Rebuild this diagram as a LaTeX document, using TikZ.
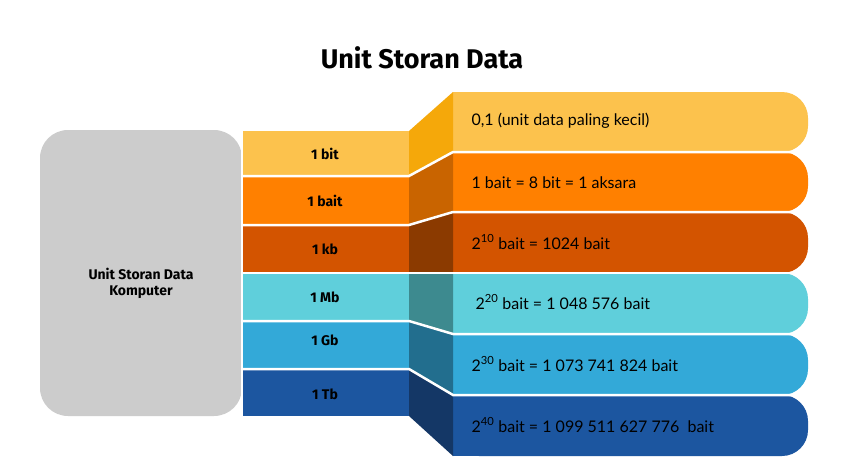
\documentclass[tikz,border=0pt]{standalone}
\usepackage{fontspec}
\setmainfont{Fira Sans}
\newfontfamily\rfont{Lato}
\definecolor{cA}{HTML}{FCC24D}\definecolor{dA}{HTML}{F5A80A}
\definecolor{cB}{HTML}{FF8000}\definecolor{dB}{HTML}{C96400}
\definecolor{cC}{HTML}{D35400}\definecolor{dC}{HTML}{8B3A00}
\definecolor{cD}{HTML}{5FCFDB}\definecolor{dD}{HTML}{3D8A8F}
\definecolor{cE}{HTML}{33A9D8}\definecolor{dE}{HTML}{226E8E}
\definecolor{cF}{HTML}{1C56A0}\definecolor{dF}{HTML}{143766}
\definecolor{gr}{HTML}{CCCCCC}
\begin{document}
\begin{tikzpicture}[x=1pt,y=-1pt,
  lab/.style={font=\bfseries\fontsize{14}{16}\selectfont},
  rt/.style={font=\rfont\fontsize{16}{18}\selectfont,anchor=west},
  sep/.style={draw=white,line width=2.5pt}]
\useasboundingbox (0,0) rectangle (852,474);
\fill[white] (0,0) rectangle (852,474);
\node[font=\bfseries\fontsize{27}{30}\selectfont] (title) at (422,58) {Unit Storan Data};
% gray box
\fill[gr,rounded corners=28pt] (242,130) -- (40,130) -- (40,416) -- (242,416) -- cycle;
\node[lab,align=center] (main) at (141,283) {Unit Storan Data\\Komputer};
% left rows: top bottom ; right rows: top bottom
\def\row#1#2#3#4#5#6#7#8#9{%
  \fill[#1] (242,#2) rectangle (409,#3);
  \fill[#4,rounded corners=26pt] (453,#5) -- (808,#5) -- (808,#6) -- (453,#6) -- cycle;
  \fill[#4] (453,#5) rectangle (500,#6);
  \fill[#7] (409,#2) -- (453,#5) -- (453,#6) -- (409,#3) -- cycle;
}
\row{cA}{131}{176}{cA}{92}{152}{dA}{}{}
\row{cB}{176}{225}{cB}{152}{212}{dB}{}{}
\row{cC}{225}{273}{cC}{212}{273}{dC}{}{}
\row{cD}{273}{321}{cD}{273}{334}{dD}{}{}
\row{cE}{321}{369}{cE}{334}{395}{dE}{}{}
\row{cF}{369}{416}{cF}{395}{456}{dF}{}{}
% separators
\foreach \a/\b in {176/152,225/212,321/334,369/395}
  \draw[sep] (242,\a) -- (409,\a) -- (453,\b) -- (790,\b);
\draw[sep] (242,273) -- (790,273);
\draw[draw=white,line width=2pt] (242,130) -- (242,416);
\node[lab] (n1) at (325,154) {1 bit};
\node[lab] (n2) at (325,201) {1 bait};
\node[lab] (n3) at (325,249) {1 kb};
\node[lab] (n4) at (325,297) {1 Mb};
\node[lab] (n5) at (325,340) {1 Gb};
\node[lab] (n6) at (325,394) {1 Tb};
\node[rt] (r1) at (468,121) {0,1 (unit data paling kecil)};
\node[rt] (r2) at (468,183) {1 bait = 8 bit = 1 aksara};
\node[rt] (r3) at (468,242) {2\textsuperscript{10} bait = 1024 bait};
\node[rt] (r4) at (472,302) {2\textsuperscript{20} bait = 1 048 576 bait};
\node[rt] (r5) at (468,364) {2\textsuperscript{30} bait = 1 073 741 824 bait};
\node[rt] (r6) at (468,425) {2\textsuperscript{40} bait = 1 099 511 627 776\ \ bait};
\end{tikzpicture}
\end{document}
